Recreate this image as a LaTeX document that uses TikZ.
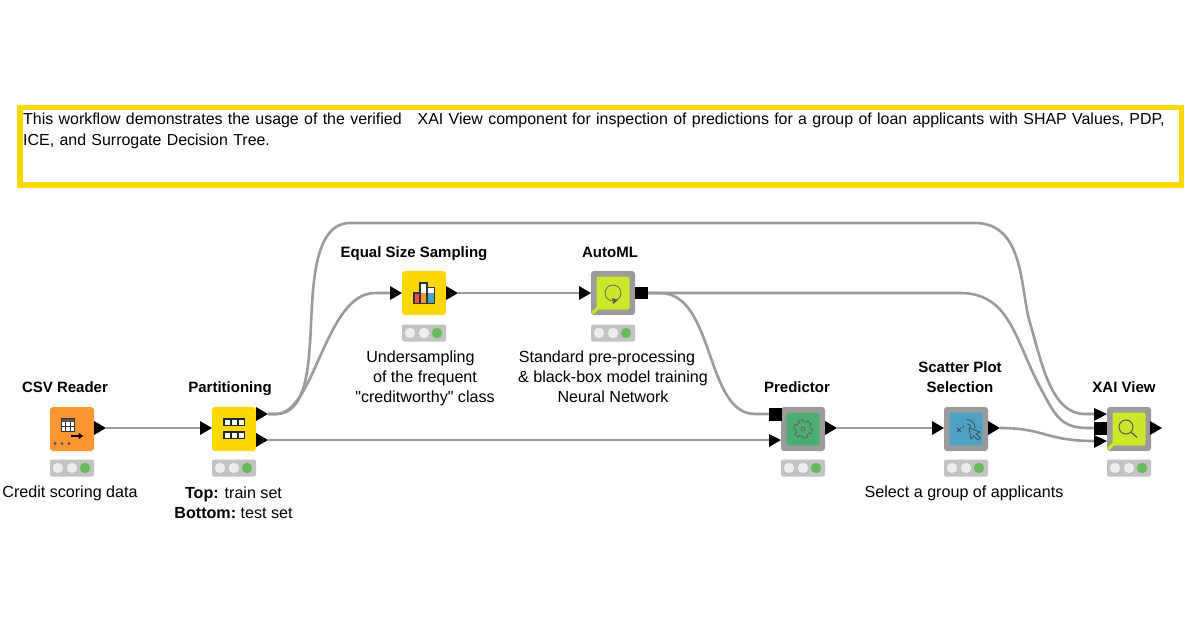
\documentclass[tikz,border=0pt]{standalone}
\usepackage{fontspec}
\usetikzlibrary{arrows.meta}
\setmainfont[Ligatures=ResetAll]{Liberation Sans}
\newcommand{\straightq}{\XeTeXglyph\XeTeXcharglyph"22\relax}
\definecolor{wire}{HTML}{9B9B9B}
\definecolor{frameY}{HTML}{FFD800}
\definecolor{metaG}{HTML}{9B9B9B}
\definecolor{lime}{HTML}{CBE62B}
\definecolor{accent}{HTML}{C4F11A}
\definecolor{orangeN}{HTML}{FF9632}
\definecolor{greenN}{HTML}{4CAF72}
\definecolor{blueN}{HTML}{4BA2C5}
\definecolor{trafficG}{HTML}{C3C3C3}
\definecolor{lightD}{HTML}{EDEDED}
\definecolor{greenD}{HTML}{66BB5C}
\tikzset{x=1pt,y=-1pt,
 nodebox/.style={minimum size=44pt,inner sep=0,rounded corners=3pt,fill=#1,draw=none},
 innerbox/.style={minimum size=33pt,inner sep=0,rounded corners=2pt,fill=#1,draw=none},
 conn/.style={draw=wire,line width=2.6pt},
 tri/.style={fill=black,draw=none},
 title/.style={font=\fontsize{15}{20}\selectfont\bfseries,align=center,inner sep=0,anchor=base},
 note/.style={font=\fontsize{16.1}{20}\selectfont,align=center,inner sep=0},
}
\newcommand{\tlight}[2]{%
 \fill[trafficG,rounded corners=2pt] (#1-22,#2-8.5) rectangle (#1+22,#2+8.5);
 \fill[lightD] (#1-14,#2) circle (5.2);
 \fill[lightD] (#1,#2) circle (5.2);
 \fill[greenD] (#1+13,#2) circle (5.2);}
\begin{document}
\begin{tikzpicture}
\useasboundingbox (0,0) rectangle (1200,630);
\fill[white] (0,0) rectangle (1200,630);
% annotation
\node[draw=frameY,line width=5.2pt,minimum width=1161.5pt,minimum height=77.5pt,inner sep=0] (anno) at (600.75,146.2) {};
\node[anchor=north west,inner sep=0,font=\fontsize{15.95}{21}\selectfont,align=left,text width=1170pt] (annotext) at (23,113) {This workflow demonstrates the usage of the verified\hspace{16pt}XAI View component\hspace{5pt}for inspection of predictions for a group of loan applicants with SHAP Values, PDP,\\ICE, and Surrogate Decision Tree.};
% nodes
\node[nodebox=orangeN] (csv) at (72,429) {};
\node[nodebox=frameY] (part) at (234,429) {};
\node[nodebox=frameY] (samp) at (424,293) {};
\node[nodebox=metaG] (auto) at (613,293) {};
\node[innerbox=lime] (autoi) at (613,293) {};
\node[nodebox=metaG] (pred) at (803,429) {};
\node[innerbox=greenN] (predi) at (803,429) {};
\node[nodebox=metaG] (scat) at (966,429) {};
\node[innerbox=blueN] (scati) at (966,429) {};
\node[nodebox=metaG] (xai) at (1129,429) {};
\node[innerbox=lime] (xaii) at (1129,429) {};
% port coordinates
\coordinate (csvO) at (106,428);
\coordinate (partI) at (200,428);
\coordinate (partO1) at (268,414);
\coordinate (partO2) at (268,440);
\coordinate (sampI) at (390,293);
\coordinate (sampO) at (458,293);
\coordinate (autoI) at (579,293);
\coordinate (autoO) at (648,293);
\coordinate (predI1) at (769,414);
\coordinate (predI2) at (769,440);
\coordinate (predO) at (837,428);
\coordinate (scatI) at (932,428);
\coordinate (scatO) at (1000,428);
\coordinate (xaiI1) at (1095,414);
\coordinate (xaiI2) at (1095,428);
\coordinate (xaiI3) at (1095,441);
% connectors
\draw[conn] (csvO) -- (partI);
\draw[conn] (partO2) -- (predI2);
\draw[conn] (partO1) -- (276,414) .. controls (315,414) and (325,293) .. (375,293) -- (sampI);
\draw[conn] (partO1) -- (276,414) .. controls (305,414) and (308,370) .. (310,343) .. controls (313,300) and (310,223) .. (350,223) -- (975,223) .. controls (1025,223) and (1020,290) .. (1030,323) .. controls (1041,359) and (1050,414) .. (1085,414) -- (xaiI1);
\draw[conn] (sampO) -- (autoI);
\draw[conn] (autoO) -- (660,293) .. controls (715,293) and (705,414) .. (755,414) -- (predI1);
\draw[conn] (autoO) -- (960,293) .. controls (1010,293) and (1015,340) .. (1040,387) .. controls (1055,415) and (1060,428) .. (1088,428) -- (xaiI2);
\draw[conn] (predO) -- (scatI);
\draw[conn] (scatO) .. controls (1045,428) and (1045,441) .. (xaiI3);
% ports
\fill[tri] (94,421) -- (106,428) -- (94,435) -- cycle;
\fill[tri] (200,421) -- (212,428) -- (200,435) -- cycle;
\fill[tri] (256,407) -- (268,414) -- (256,421) -- cycle;
\fill[tri] (256,433) -- (268,440) -- (256,447) -- cycle;
\fill[tri] (390,286) -- (402,293) -- (390,300) -- cycle;
\fill[tri] (446,286) -- (458,293) -- (446,300) -- cycle;
\fill[tri] (579,286) -- (591,293) -- (579,300) -- cycle;
\fill[black] (635,287) rectangle (648,299);
\fill[black] (769,408) rectangle (782,421);
\fill[tri] (769,434) -- (781,440) -- (769,447) -- cycle;
\fill[tri] (825,421) -- (837,428) -- (825,435) -- cycle;
\fill[tri] (932,421) -- (944,428) -- (932,435) -- cycle;
\fill[tri] (988,421) -- (1000,428) -- (988,435) -- cycle;
\fill[tri] (1094,408) -- (1107,414) -- (1094,421) -- cycle;
\fill[black] (1094,422) rectangle (1107,435);
\fill[tri] (1094,435) -- (1107,441) -- (1094,448) -- cycle;
\fill[tri] (1150,421) -- (1162,428) -- (1150,435) -- cycle;
% icons: CSV
\fill[white] (61.5,418.5) rectangle (74.5,431.5);
\fill[black!65] (61.5,418.5) rectangle (74.5,422);
\draw[black!80,line width=1pt] (61.5,418.5) rectangle (74.5,431.5);
\draw[black!80,line width=.8pt] (61.5,426) -- (74.5,426) (65.8,422) -- (65.8,431.5) (70.2,422) -- (70.2,431.5);
\draw[black,line width=2pt,-{Latex[length=5pt,width=7pt]}] (71,436) -- (83.5,436);
\foreach \xx in {55,62,69}{\fill[black!65] (\xx,443.5) circle (1.7);}
% Partitioning
\foreach \yy in {419,432}{\draw[black!85,line width=1.5pt,fill=white] (224,\yy) rectangle (244.5,\yy+6.5);
 \draw[black!85,line width=1.2pt] (231,\yy) -- (231,\yy+6.5) (238,\yy) -- (238,\yy+6.5);}
% Sampling
\fill[red!70!white] (414,293) rectangle (420,303.5);
\fill[white] (420,283) rectangle (427,293);
\fill[orange!80] (420,293) rectangle (427,303.5);
\fill[white] (427,287.5) rectangle (434.5,293);
\fill[blueN] (427,293) rectangle (434.5,303.5);
\draw[black!80,line width=1.1pt] (414,293) rectangle (420,303.5) (420,283) rectangle (427,303.5) (427,287.5) rectangle (434.5,303.5);
% AutoML
\draw[black!60,line width=.8pt] (613,293) ++(100:8) arc[start angle=100,end angle=425,radius=8];
\fill[black!65] (612,298) -- (618,300) -- (613,304) -- cycle;
\draw[accent,line width=3pt] (592.5,313) -- (603,303);
\fill[accent] (599,299.5) rectangle (605,305.5);
% Predictor
\draw[black!60,line width=.8pt] (803,429) circle (2);
\foreach \a in {0,60,...,300}{\draw[black!60,line width=.8pt] (803,429) ++(\a:9.5) arc[start angle=\a,end angle=\a+30,radius=9.5] -- ++(\a+30:-2) arc[start angle=\a+30,end angle=\a+60,radius=7.5] -- ++(\a+60:2);}
% Scatter
\draw[black!70,line width=.8pt] (957,428) -- (961,432) (961,428) -- (957,432);
\fill[black!70] (963,427) circle (1);
\draw[black!70,line width=.8pt] (969,428) -- (971,439) -- (973.5,436) -- (978,440) -- (980.5,438) -- (976,434) -- (980,432) -- cycle;
\draw[black!70,line width=.8pt] (967,424) arc[start angle=-90,end angle=10,radius=4] (967,419.5) arc[start angle=-90,end angle=10,radius=8];
% XAI
\draw[black!65,line width=1pt] (1126,427) circle (7);
\draw[black!65,line width=1.2pt] (1131,432) -- (1137,437.5);
\draw[accent,line width=3pt] (1108,449) -- (1119,439);
\fill[accent] (1115,435.5) rectangle (1121,441.5);
% traffic lights
\tlight{72}{468}
\tlight{234}{468}
\tlight{424}{333}
\tlight{613}{333}
\tlight{803}{468}
\tlight{966}{468}
\tlight{1129}{468}
% titles
\node[title] (tcsv) at (65,392.5) {CSV Reader};
\node[title] (tpart) at (230,392.5) {Partitioning};
\node[title] (tsamp) at (414,257) {Equal Size Sampling};
\node[title] (tauto) at (610,257) {AutoML};
\node[title] (tpred) at (797,392.5) {Predictor};
\node[title] (tscat) at (960,372.5) {Scatter Plot};
\node[title] (tscatb) at (960,392.5) {Selection};
\node[title] (txai) at (1124,392.5) {XAI View};
% notes
\node[note] (ncsv) at (70,493) {Credit scoring data};
\node[note] (npart) at (233.5,503) {\textbf{Top:} train set\\\textbf{Bottom:}\ test set};
\node[note] (nsamp) at (425,378) {Undersampling\hspace*{9pt}\\of the frequent\\\straightq creditworthy\straightq{} class};
\node[note] (nauto) at (613,377) {Standard pre-processing\hspace*{12pt}\\\&\ black-box model training\\Neural Network};
\node[note] (nscat) at (964,493) {Select\ a group of applicants};
\end{tikzpicture}
\end{document}
